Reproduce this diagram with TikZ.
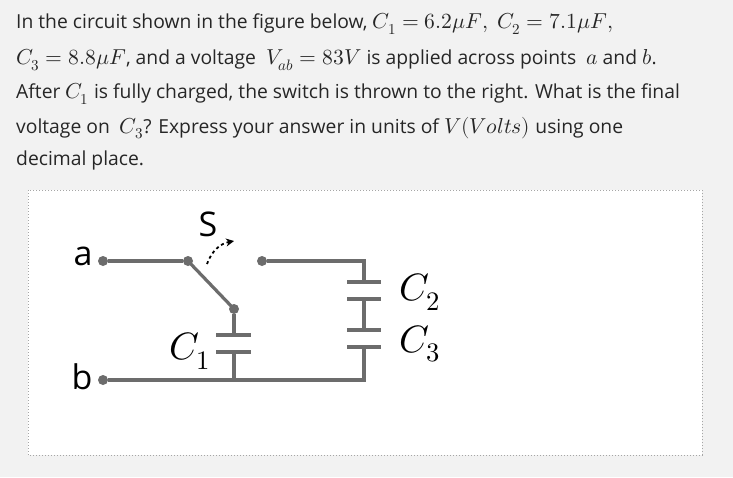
\documentclass[tikz,border=0pt]{standalone}
\usetikzlibrary{arrows.meta}
\usepackage{fontspec}
\setmainfont{Open Sans}
\setsansfont{Open Sans}
\usepackage{unicode-math}
\setmathfont{Latin Modern Math}[Scale=1.12]
\begin{document}
\begin{tikzpicture}[x=1pt,y=-1pt,
  wire/.style={draw=gray!85!black,line width=3.2pt},
  plate/.style={draw=gray!85!black,line width=3.6pt},
  dotnode/.style={circle,fill=gray!85!black,inner sep=0pt,minimum size=10pt},
  txt/.style={anchor=west,inner sep=0pt,font=\fontsize{19.3}{24}\selectfont,text=black!85},
  lab/.style={inner sep=0pt,font=\fontsize{34}{36}\selectfont}]
\useasboundingbox (0,0) rectangle (733,477);
\fill[black!5] (0,0) rectangle (733,477);
\filldraw[fill=white,draw=gray!70,dotted,line width=1pt] (28,190) rectangle (702,455);
\node[txt] (t1) at (16,24) {In the circuit shown in the figure below, $C_1=6.2\mu F,\ C_2=7.1\mu F,$};
\node[txt] (t2) at (16,60) {$C_3=8.8\mu F$, and a voltage $\ V_{ab}=83V$ is applied across points $\ a$ and $b$.};
\node[txt] (t3) at (16,94) {After $C_1$ is fully charged, the switch is thrown to the right. What is the final};
\node[txt] (t4) at (16,128) {voltage on $\ C_3$? Express your answer in units of $V(Volts)$ using one};
\node[txt] (t5) at (16,160) {decimal place.};
% nodes
\node[dotnode] (a) at (103,261) {};
\node[dotnode] (p) at (188,261) {};
\node[dotnode] (r) at (262,261) {};
\node[dotnode] (s) at (234,309) {};
\node[dotnode] (b) at (103,380) {};
\coordinate (tr) at (364,261);
\coordinate (c2t) at (364,282);
\coordinate (c2b) at (364,299);
\coordinate (c3t) at (364,330);
\coordinate (c3b) at (364,347);
\coordinate (br) at (364,380);
\coordinate (c1t) at (234,335);
\coordinate (c1b) at (234,352);
\coordinate (bm) at (234,380);
\draw[wire] (a) -- (p);
\draw[wire] (p.center) -- (s.center);
\draw[wire] (r) -- (tr) -- (c2t);
\draw[wire] (c2b) -- (c3t);
\draw[wire] (c3b) -- (br) -- (b);
\draw[wire] (s) -- (c1t);
\draw[wire] (c1b) -- (bm);
\draw[plate] (347,282) -- (381,282) (347,299) -- (381,299);
\draw[plate] (347,330) -- (381,330) (347,347) -- (381,347);
\draw[plate] (216,335) -- (251,335) (216,352) -- (251,352);
\draw[dashed,line width=1.8pt,-{Stealth[length=8pt,width=8pt]}] (207,264) to[bend left=30] (234,241);
\node[lab] (la) at (83,256) {a};
\node[lab] (lb) at (82,377) {b};
\node[lab] (lS) at (208,224) {S};
\node[lab] (l1) at (190,351) {$C_1$};
\node[lab] (l2) at (420,292) {$C_2$};
\node[lab] (l3) at (420,344) {$C_3$};
\end{tikzpicture}
\end{document}
